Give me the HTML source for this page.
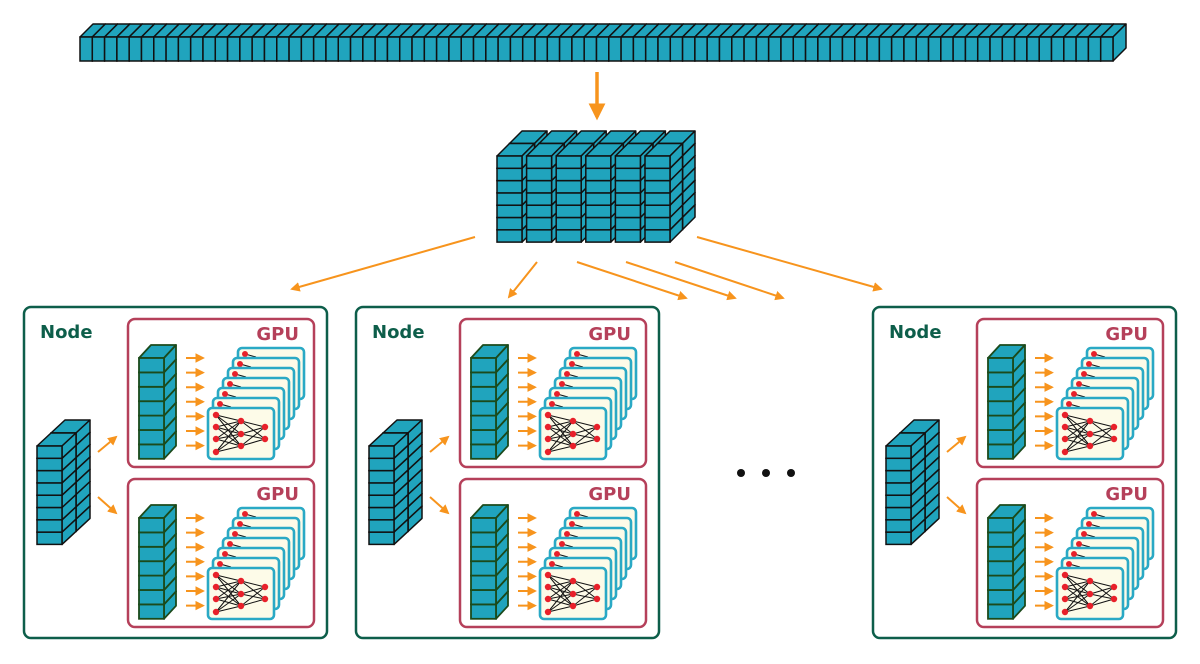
<!DOCTYPE html>
<html><head><style>body{margin:0;background:#fff}svg{display:block}</style></head>
<body>
<svg id="s" width="1200" height="664" xmlns="http://www.w3.org/2000/svg">
<defs>
<marker id="ah" viewBox="0 0 10 10" refX="8" refY="5" markerWidth="4.8" markerHeight="4.8" orient="auto"><path d="M0,0 L10,5 L0,10 z" fill="#f7941d"/></marker>
</defs>
<g id="g"></g>
</svg>
<script>
var out=[];
var T='#20a4bd';
function cube(x,y,w,h,dx,dy,st,sw){
 var p=function(a){return a.map(function(v){return v[0].toFixed(1)+','+v[1].toFixed(1)}).join(' ')};
 out.push('<polygon points="'+p([[x,y],[x+dx,y-dy],[x+w+dx,y-dy],[x+w,y]])+'" fill="'+T+'" stroke="'+st+'" stroke-width="'+sw+'" stroke-linejoin="round"/>');
 out.push('<polygon points="'+p([[x+w,y],[x+w+dx,y-dy],[x+w+dx,y+h-dy],[x+w,y+h]])+'" fill="'+T+'" stroke="'+st+'" stroke-width="'+sw+'" stroke-linejoin="round"/>');
 out.push('<rect x="'+x+'" y="'+y+'" width="'+w+'" height="'+h+'" fill="'+T+'" stroke="'+st+'" stroke-width="'+sw+'"/>');
}
function arrow(x1,y1,x2,y2,w){out.push('<line x1="'+x1+'" y1="'+y1+'" x2="'+x2+'" y2="'+y2+'" stroke="#f7941d" stroke-width="'+(w||2)+'" marker-end="url(#ah)"/>');}
var n=84,cw=(1113-80)/n;
for(var i=0;i<n;i++)cube(80+i*cw,37,cw,24,13,13,'#111',1.5);
arrow(597,72,597,117,3.5);
for(var d=1;d>=0;d--)for(var c=0;c<6;c++)for(var r=6;r>=0;r--)
 cube(497+c*29.6+d*12.5,156+r*12.3-d*12.5,25,12.3,12.5,12.5,'#111',1.5);
arrow(475,237,292,289);arrow(537,262,509,297);arrow(577,262,686,298);arrow(626,262,735,298);arrow(675,262,783,298);arrow(697,237,881,289);
[741,766,791].forEach(function(x){out.push('<circle cx="'+x+'" cy="473" r="4" fill="#111"/>')});
function node(ox){
 out.push('<rect x="'+(ox+24)+'" y="307" width="303" height="331" rx="7" fill="#fff" stroke="#0d5e4a" stroke-width="2.5"/>');
 out.push('<text x="'+(ox+40)+'" y="338" font-family="DejaVu Sans, Liberation Sans, sans-serif" font-weight="bold" font-size="18" fill="#0d5e4a">Node</text>');
 for(var d=1;d>=0;d--)for(var r=7;r>=0;r--)cube(ox+37+d*14,446+r*12.3-d*13,25,12.3,14,13,'#111',1.5);
 arrow(ox+98,452,ox+116,437);arrow(ox+98,497,ox+116,513);
 [0,160].forEach(function(dy){
  var y0=319+dy;
  out.push('<rect x="'+(ox+128)+'" y="'+y0+'" width="186" height="148" rx="7" fill="#fff" stroke="#b5405a" stroke-width="2.5"/>');
  out.push('<text x="'+(ox+299)+'" y="'+(y0+21)+'" text-anchor="end" font-family="DejaVu Sans, Liberation Sans, sans-serif" font-weight="bold" font-size="18" fill="#b5405a">GPU</text>');
  var sy=358+dy;
  for(var r=6;r>=0;r--)cube(ox+139,sy+r*14.4,25,14.4,12,13,'#1b4a1b',1.8);
  for(var k=0;k<7;k++)arrow(ox+186,sy+k*14.6,ox+203,sy+k*14.6);
  for(var k=6;k>=0;k--){
   var cx=ox+208+k*5,cy=408+dy-k*10;
   out.push('<rect x="'+cx+'" y="'+cy+'" width="66" height="51" rx="4" fill="#fdfbe8" stroke="#2aa9c5" stroke-width="2.6"/>');
   if(k>0){out.push('<line x1="'+(cx+7)+'" y1="'+(cy+6)+'" x2="'+(cx+18)+'" y2="'+(cy+9)+'" stroke="#111" stroke-width="1"/><circle cx="'+(cx+7)+'" cy="'+(cy+6)+'" r="3" fill="#e8202a"/>');}
  }
  var fx=ox+208,fy=408+dy;
  var L=[[[8,7],[8,19],[8,31],[8,44]],[[33,13],[33,26],[33,38]],[[57,19],[57,31]]];
  for(var a=0;a<2;a++)L[a].forEach(function(p){L[a+1].forEach(function(q){out.push('<line x1="'+(fx+p[0])+'" y1="'+(fy+p[1])+'" x2="'+(fx+q[0])+'" y2="'+(fy+q[1])+'" stroke="#111" stroke-width="1"/>')})});
  L.forEach(function(l){l.forEach(function(p){out.push('<circle cx="'+(fx+p[0])+'" cy="'+(fy+p[1])+'" r="3.2" fill="#e8202a"/>')})});
 });
}
node(0);node(332);node(849);
document.getElementById('g').innerHTML=out.join('');
</script>
</body></html>
